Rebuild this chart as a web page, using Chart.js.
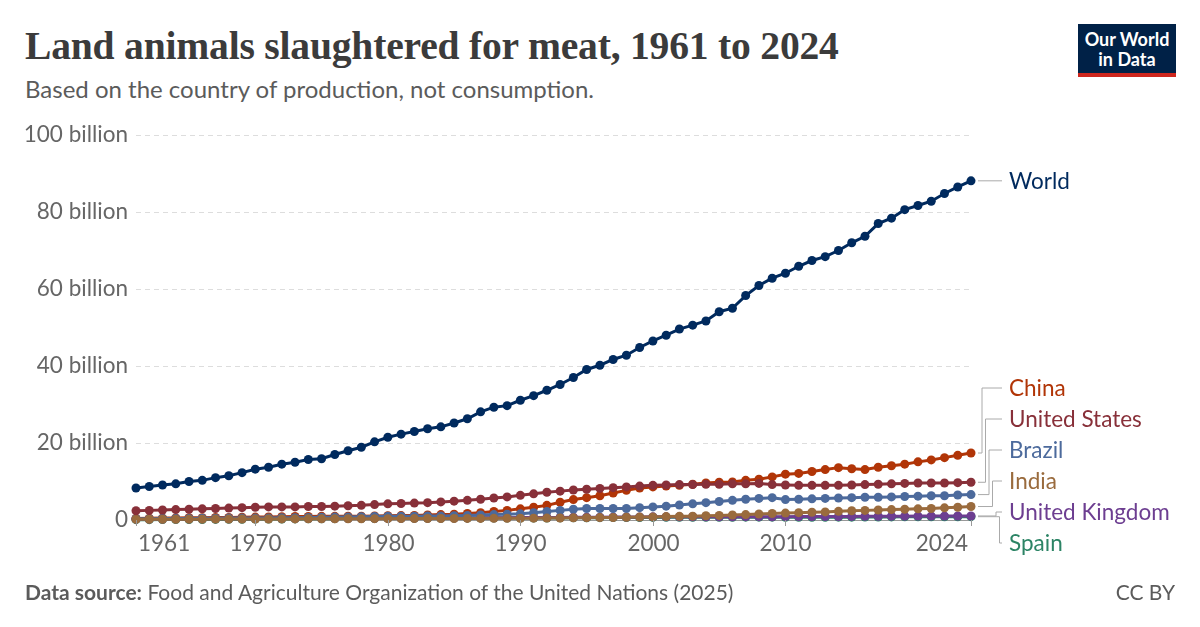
<!DOCTYPE html>
<html>
<head>
<meta charset="utf-8">
<script src="https://cdn.jsdelivr.net/npm/chart.js@4.4.1/dist/chart.umd.min.js"></script>
<style>
  html, body { margin: 0; padding: 0; background: #fff; }
  #wrap { position: relative; width: 1200px; height: 627px; overflow: hidden; font-family: Lato, "Noto Sans", sans-serif; }
  #chart { position: absolute; left: 0; top: 0; }
  .title { position: absolute; left: 25px; top: 23px; font-family: "Liberation Serif", "DejaVu Serif", serif; font-weight: bold; font-size: 39.6px; color: #3b3b3b; white-space: nowrap; letter-spacing: -0.2px; }
  .subtitle { position: absolute; left: 25px; top: 74px; font-size: 24px; color: #5b5b5b; white-space: nowrap; }
  .logo { position: absolute; left: 1078px; top: 24px; width: 98px; background: #002147; border-bottom: 4px solid #ce261e; color: #fff; font-weight: bold; font-size: 18px; line-height: 20px; text-align: center; padding-top: 5px; height: 44px; }
  .footer { position: absolute; left: 25px; top: 579px; font-size: 21px; color: #5b5b5b; white-space: nowrap; }
  .footer b { font-weight: bold; }
  .license { position: absolute; right: 25px; top: 579px; font-size: 21px; color: #5b5b5b; }
</style>
</head>
<body>
<div id="wrap">
  <div class="title">Land animals slaughtered for meat, 1961 to 2024</div>
  <div class="subtitle">Based on the country of production, not consumption.</div>
  <div class="logo">Our World<br>in Data</div>
  <canvas id="chart" width="1200" height="627"></canvas>
  <div class="footer"><b>Data source:</b> Food and Agriculture Organization of the United Nations (2025)</div>
  <div class="license">CC BY</div>
</div>
<script>
// years on the x axis
const years = [];
for (let y = 1961; y <= 2024; y++) years.push(y);

const xTickYears = [1961, 1970, 1980, 1990, 2000, 2010, 2024];
const yTickValues = [0, 20, 40, 60, 80, 100];

// values in billions of animals
const world = [8.3, 8.7, 9.1, 9.4, 10.0, 10.3, 11.0, 11.5, 12.3, 13.2,
  13.7, 14.5, 15.0, 15.7, 15.9, 17.0, 18.0, 18.9, 20.3, 21.5,
  22.3, 23.0, 23.7, 24.2, 25.2, 26.3, 28.1, 29.3, 29.7, 31.1,
  32.3, 33.7, 35.2, 37.0, 39.1, 40.2, 41.7, 42.8, 44.8, 46.5,
  48.0, 49.6, 50.6, 51.7, 54.1, 55.0, 58.3, 60.9, 62.8, 64.1,
  65.9, 67.4, 68.4, 70.0, 72.0, 73.7, 77.0, 78.4, 80.6, 81.7,
  82.8, 84.8, 86.5, 88.1];
const china = [0.4, 0.45, 0.5, 0.55, 0.6, 0.6, 0.65, 0.65, 0.7, 0.75,
  0.8, 0.85, 0.9, 0.9, 0.95, 0.95, 1.0, 1.0, 1.05, 1.1,
  1.15, 1.2, 1.3, 1.4, 1.5, 1.7, 1.9, 2.2, 2.5, 2.9,
  3.3, 3.8, 4.6, 5.3, 5.8, 6.3, 7.0, 7.7, 8.3, 8.6,
  8.8, 9.0, 9.3, 9.6, 9.8, 9.9, 10.3, 10.6, 11.2, 11.9,
  12.1, 12.6, 13.1, 13.6, 13.3, 13.1, 13.7, 14.1, 14.5, 15.1,
  15.6, 16.2, 16.8, 17.4];
const unitedStates = [2.4, 2.5, 2.6, 2.7, 2.8, 2.9, 3.0, 3.1, 3.2, 3.3,
  3.4, 3.4, 3.4, 3.5, 3.5, 3.6, 3.7, 3.8, 4.0, 4.2,
  4.3, 4.4, 4.5, 4.7, 4.9, 5.1, 5.4, 5.7, 6.0, 6.4,
  6.8, 7.2, 7.5, 7.8, 8.0, 8.2, 8.4, 8.6, 8.8, 9.0,
  9.1, 9.2, 9.2, 9.3, 9.3, 9.4, 9.4, 9.5, 9.2, 9.1,
  9.0, 9.0, 9.0, 9.0, 9.1, 9.2, 9.3, 9.4, 9.5, 9.6,
  9.6, 9.6, 9.7, 9.8];
const brazil = [0.35, 0.35, 0.4, 0.4, 0.4, 0.45, 0.45, 0.5, 0.5, 0.5,
  0.55, 0.6, 0.6, 0.65, 0.7, 0.75, 0.8, 0.85, 0.9, 0.95,
  1.0, 1.0, 1.05, 1.05, 1.1, 1.2, 1.3, 1.4, 1.5, 1.6,
  1.9, 2.2, 2.5, 2.8, 3.0, 3.0, 3.0, 3.0, 3.2, 3.4,
  3.6, 3.9, 4.2, 4.5, 4.8, 5.1, 5.4, 5.6, 5.8, 5.3,
  5.4, 5.5, 5.6, 5.7, 5.8, 5.9, 5.9, 6.0, 6.1, 6.2,
  6.3, 6.3, 6.5, 6.6];
const india = [0.2, 0.2, 0.2, 0.2, 0.22, 0.22, 0.23, 0.24, 0.25, 0.26,
  0.27, 0.28, 0.29, 0.3, 0.3, 0.31, 0.32, 0.33, 0.34, 0.35,
  0.36, 0.37, 0.38, 0.39, 0.4, 0.41, 0.42, 0.43, 0.44, 0.45,
  0.48, 0.5, 0.53, 0.56, 0.6, 0.63, 0.66, 0.7, 0.75, 0.8,
  0.88, 0.95, 1.0, 1.1, 1.2, 1.3, 1.4, 1.55, 1.7, 1.8,
  1.9, 2.0, 2.1, 2.25, 2.4, 2.5, 2.6, 2.7, 2.8, 2.9,
  3.0, 3.15, 3.3, 3.5];
const unitedKingdom = [0.25, 0.26, 0.27, 0.28, 0.29, 0.3, 0.32, 0.33, 0.34, 0.35,
  0.36, 0.37, 0.38, 0.38, 0.38, 0.39, 0.4, 0.42, 0.44, 0.45,
  0.46, 0.47, 0.48, 0.5, 0.52, 0.54, 0.56, 0.58, 0.6, 0.62,
  0.64, 0.66, 0.68, 0.7, 0.72, 0.74, 0.76, 0.78, 0.8, 0.82,
  0.82, 0.82, 0.83, 0.84, 0.84, 0.85, 0.86, 0.86, 0.85, 0.86,
  0.88, 0.9, 0.9, 0.92, 0.94, 0.96, 0.98, 1.0, 1.0, 1.01,
  1.02, 1.02, 1.03, 1.05];
const spain = [0.08, 0.09, 0.1, 0.11, 0.12, 0.14, 0.16, 0.18, 0.2, 0.22,
  0.24, 0.26, 0.28, 0.3, 0.32, 0.34, 0.36, 0.38, 0.4, 0.42,
  0.43, 0.44, 0.45, 0.46, 0.47, 0.48, 0.49, 0.5, 0.5, 0.51,
  0.52, 0.53, 0.54, 0.56, 0.58, 0.6, 0.62, 0.64, 0.66, 0.68,
  0.7, 0.72, 0.72, 0.72, 0.72, 0.72, 0.73, 0.74, 0.73, 0.72,
  0.72, 0.72, 0.72, 0.73, 0.74, 0.76, 0.78, 0.8, 0.82, 0.83,
  0.84, 0.84, 0.85, 0.86];

const seriesNames = ['World', 'China', 'United States', 'Brazil', 'India', 'United Kingdom', 'Spain'];
const seriesValues = [world, china, unitedStates, brazil, india, unitedKingdom, spain];
const seriesColors = ['#002a5e', '#b13507', '#883039', '#4c6a9c', '#9a6b3d', '#6d3e91', '#2c8465'];
const seriesOrder = [0, 4, 1, 3, 2, 5, 6]; // World on top, US over China, India over UK

const LABEL_FONT = '22.5px Lato, "Noto Sans", sans-serif';

// end-of-line labels with elbow connectors, OWID style
const endLabels = {
    id: 'endLabels',
    afterDatasetsDraw(chart) {
        const ctx = chart.ctx;
        const area = chart.chartArea;
        const items = chart.data.datasets.map((ds, i) => {
            const meta = chart.getDatasetMeta(i);
            const pt = meta.data[meta.data.length - 1];
            return { name: ds.label, color: ds.borderColor, x: pt.x, y: pt.y, ly: pt.y };
        }).sort((a, b) => a.y - b.y);

        const gap = 31, maxY = area.bottom + 23;
        for (let i = 1; i < items.length; i++) {
            items[i].ly = Math.max(items[i].y, items[i - 1].ly + gap);
        }
        if (items[items.length - 1].ly > maxY) {
            items[items.length - 1].ly = maxY;
            for (let i = items.length - 2; i >= 0; i--) {
                items[i].ly = Math.min(items[i].ly, items[i + 1].ly - gap);
            }
        }

        ctx.save();
        ctx.font = LABEL_FONT;
        ctx.textBaseline = 'middle';
        ctx.textAlign = 'left';
        let k = 0;
        items.forEach(it => {
            const x0 = it.x + 7, x2 = area.right + 31;
            ctx.strokeStyle = '#aaaaaa';
            ctx.lineWidth = 1;
            ctx.beginPath();
            if (Math.abs(it.ly - it.y) < 1) {
                ctx.moveTo(x0, it.y);
                ctx.lineTo(x2, it.y);
            } else {
                const ex = area.right + 11 + k * 3.5;
                k++;
                ctx.moveTo(x0, it.y);
                ctx.lineTo(ex, it.y);
                ctx.lineTo(ex, it.ly);
                ctx.lineTo(x2, it.ly);
            }
            ctx.stroke();
            ctx.fillStyle = it.color;
            ctx.fillText(it.name, area.right + 38, it.ly + 1);
        });
        ctx.restore();
    }
};

// x axis labels: kept inside the plot width like the original
const xLabels = {
    id: 'xLabels',
    afterDraw(chart) {
        const ctx = chart.ctx;
        const area = chart.chartArea;
        const xs = chart.scales.x;
        ctx.save();
        ctx.font = LABEL_FONT;
        ctx.fillStyle = '#666666';
        ctx.textBaseline = 'middle';
        ctx.strokeStyle = '#999999';
        ctx.lineWidth = 1;
        xTickYears.forEach(yr => {
            const px = Math.round(xs.getPixelForValue(yr)) + 0.5;
            ctx.beginPath();
            ctx.moveTo(px, area.bottom);
            ctx.lineTo(px, area.bottom + 6);
            ctx.stroke();
            const w = ctx.measureText(String(yr)).width;
            let left = px - w / 2;
            left = Math.max(area.left + 2, Math.min(area.right - 3 - w, left));
            ctx.fillText(String(yr), left, area.bottom + 24);
        });
        ctx.restore();
    }
};

const datasets = seriesNames.map((name, i) => ({
    label: name,
    data: years.map((yr, j) => ({ x: yr, y: seriesValues[i][j] })),
    borderColor: seriesColors[i],
    backgroundColor: seriesColors[i],
    borderWidth: 3,
    pointRadius: 4.5,
    pointBorderWidth: 0,
    pointHoverRadius: 4.5,
    order: seriesOrder[i],
    clip: false,
    tension: 0
}));

new Chart(document.getElementById('chart'), {
    type: 'line',
    data: { datasets },
    options: {
        responsive: false,
        animation: false,
        events: [],
        layout: { padding: { left: 0, right: 229, top: 135, bottom: 67 } },
        plugins: { legend: { display: false }, tooltip: { enabled: false } },
        scales: {
            x: {
                type: 'linear',
                min: 1961,
                max: 2024,
                afterBuildTicks: s => { s.ticks = xTickYears.map(v => ({ value: v })); },
                afterFit: s => { s.height = 40; },
                ticks: { display: false },
                grid: { display: false },
                border: { display: true, color: '#999999', width: 1 }
            },
            y: {
                min: 0,
                max: 100,
                afterBuildTicks: s => { s.ticks = yTickValues.map(v => ({ value: v })); },
                afterFit: s => { s.width = 136; },
                ticks: {
                    padding: 8,
                    color: '#666666',
                    font: { family: 'Lato, "Noto Sans", sans-serif', size: 22.5 },
                    callback: v => v === 0 ? '0' : v + ' billion'
                },
                grid: { color: '#dddddd', drawTicks: false, lineWidth: 1 },
                border: { display: false, dash: [5, 4] }
            }
        }
    },
    plugins: [endLabels, xLabels]
});
</script>
</body>
</html>
